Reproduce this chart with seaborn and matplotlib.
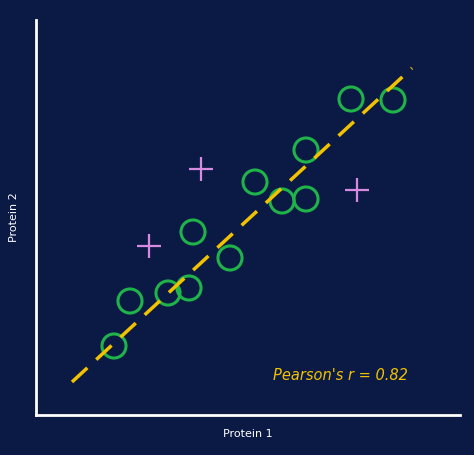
import matplotlib
matplotlib.use("Agg")
import matplotlib.pyplot as plt
import seaborn as sns
import pandas as pd

# data in pixel-like units (y measured upward)
circ_x = [114, 130, 168, 189, 193, 230, 255, 282, 306, 306, 351, 393]
circ_y = [109, 154, 162, 167, 223, 197, 273, 254, 305, 256, 356, 355]
plus_x = [149, 201, 357]
plus_y = [209, 286, 265]
line_x = [72, 412]
line_y = [73, 387]

sns.set_style("white")
bg = "#0a1a44"
fig = plt.figure(figsize=(4.74, 4.55), dpi=100, facecolor=bg)
ax = fig.add_axes([36/474, 40/455, 424/474, 395/455])
ax.set_facecolor(bg)
sns.lineplot(x=line_x, y=line_y, ax=ax, color="#f2c200", lw=2.5, dashes=(6, 3.5))
sns.scatterplot(x=circ_x, y=circ_y, ax=ax, s=300, facecolor="none",
                edgecolor="#1fb34a", linewidth=2.2, marker="o")
sns.scatterplot(x=plus_x, y=plus_y, ax=ax, s=300, color="#d68be0",
                linewidth=1.6, marker="+")
ax.set_xlim(36, 460)
ax.set_ylim(40, 435)
ax.set_xticks([]); ax.set_yticks([])
for s in ["top", "right"]:
    ax.spines[s].set_visible(False)
for s in ["left", "bottom"]:
    ax.spines[s].set_color("white"); ax.spines[s].set_linewidth(2)
ax.set_xlabel("Protein 1", color="white", fontsize=8, labelpad=10)
ax.set_ylabel("Protein 2", color="white", fontsize=8, labelpad=12)
ax.text(273, 80, "Pearson's r = 0.82", color="#f2c200", fontsize=10.5,
        style="italic", va="center")
fig.savefig("out.png", dpi=100, facecolor=bg)
